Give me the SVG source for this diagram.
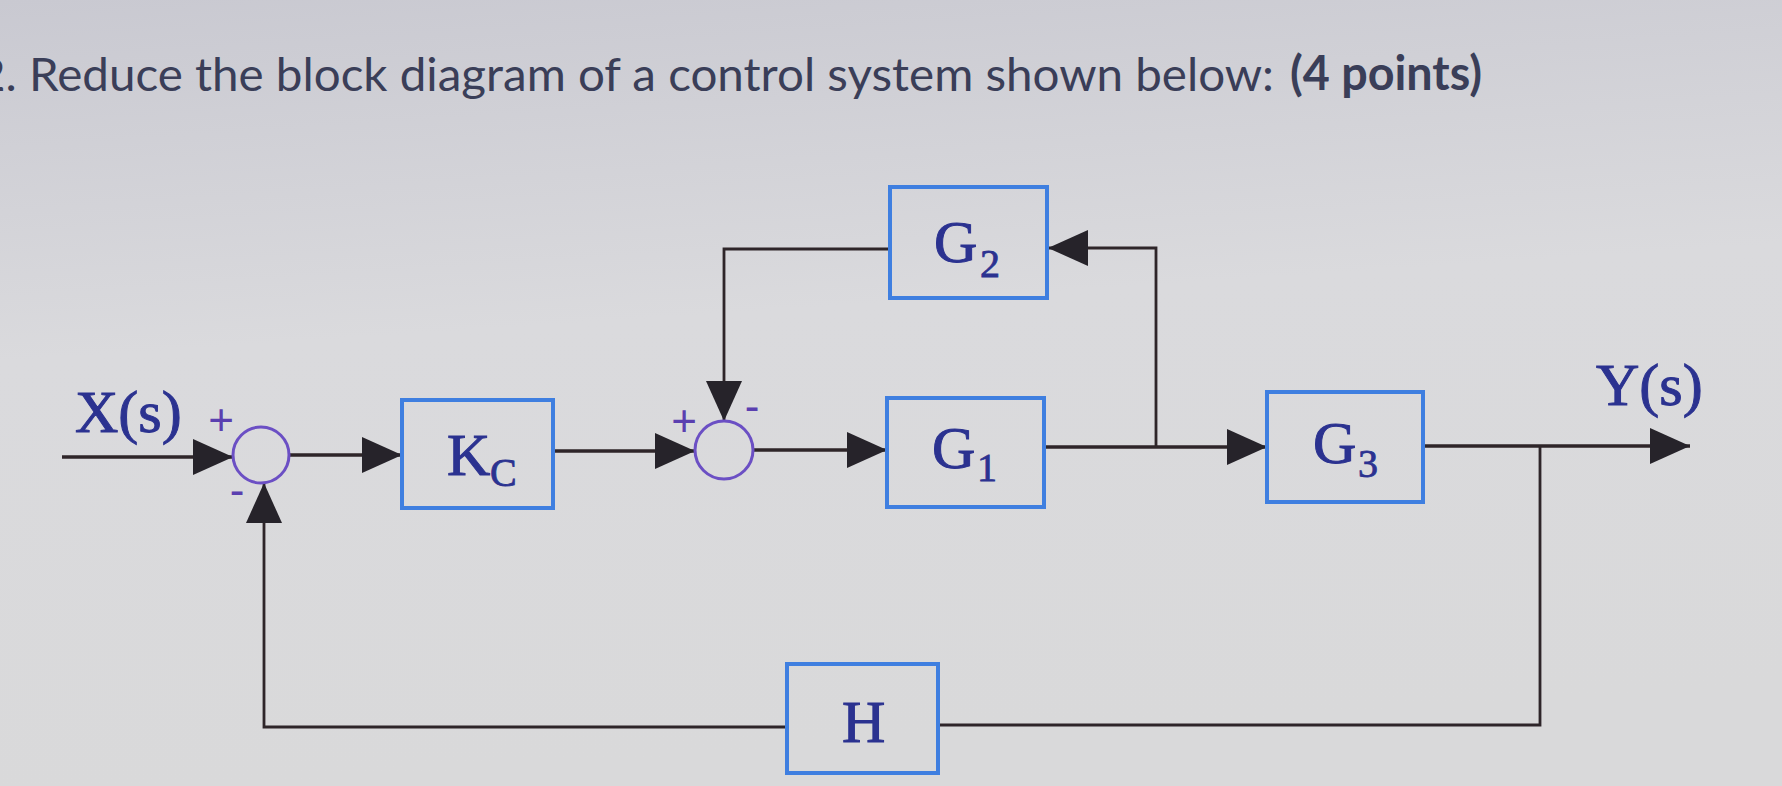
<svg xmlns="http://www.w3.org/2000/svg" width="1782" height="786" viewBox="0 0 1782 786">
  <defs>
    <linearGradient id="bg" x1="0" y1="0" x2="0.15" y2="1">
      <stop offset="0" stop-color="#c9c9d1"/>
      <stop offset="0.45" stop-color="#dadadd"/>
      <stop offset="1" stop-color="#d9d9da"/>
    </linearGradient>
    <marker id="arr" markerUnits="userSpaceOnUse" markerWidth="40" markerHeight="36" refX="40" refY="18" orient="auto">
      <path d="M0,0 L40,18 L0,36 Z" fill="#26232a"/>
    </marker>
    <style>
      .box { fill: none; stroke: #3f7fe0; stroke-width: 4; }
      .lbl { font-family: "Liberation Serif", "Times New Roman", serif; font-size: 60px; fill: #2b3290; stroke: #2b3290; stroke-width: 1; }
      .sub { font-family: "Liberation Serif", "Times New Roman", serif; font-size: 40px; fill: #2b3290; stroke: #2b3290; stroke-width: 0.8; }
      .sign { font-family: "Liberation Sans", Arial, sans-serif; font-size: 44px; fill: #5a3fb0; }
      .sum { fill: none; stroke: #6b4fc4; stroke-width: 3; }
      .wire { fill: none; stroke: #2e2529; stroke-width: 3.5; }
      .fb { fill: none; stroke: #2e2529; stroke-width: 2.8; }
      .title { font-family: Lato, "Open Sans", sans-serif; font-size: 47px; fill: #3a3e58; }
    </style>
  </defs>
  <rect x="0" y="0" width="1782" height="786" fill="url(#bg)"/>

  <g id="title">
    <text class="title" x="-22" y="91" textLength="1296" lengthAdjust="spacingAndGlyphs">2. Reduce the block diagram of a control system shown below:</text>
    <text class="title" x="1290" y="90" font-weight="bold" textLength="192" lengthAdjust="spacingAndGlyphs">(4 points)</text>
  </g>

  <g id="connectors">
    <line class="wire" x1="62" y1="457" x2="233" y2="457" marker-end="url(#arr)"/>
    <line class="wire" x1="289" y1="455" x2="402" y2="455" marker-end="url(#arr)"/>
    <line class="wire" x1="553" y1="451" x2="695" y2="451" marker-end="url(#arr)"/>
    <line class="wire" x1="753" y1="450" x2="887" y2="450" marker-end="url(#arr)"/>
    <line class="wire" x1="1044" y1="447" x2="1267" y2="447" marker-end="url(#arr)"/>
    <line class="wire" x1="1423" y1="446" x2="1690" y2="446" marker-end="url(#arr)"/>
    <polyline class="fb" points="1156,447 1156,248 1048,248" marker-end="url(#arr)"/>
    <polyline class="fb" points="890,249 724,249 724,421" marker-end="url(#arr)"/>
    <polyline class="fb" points="1540,446 1540,725 938,725"/>
    <polyline class="fb" points="787,727 264,727 264,483" marker-end="url(#arr)"/>
  </g>

  <g id="input-label">
    <text class="lbl" x="75" y="432">X(s)</text>
  </g>
  <g id="output-label">
    <text class="lbl" x="1596" y="405">Y(s)</text>
  </g>

  <g id="sum1">
    <circle class="sum" cx="261" cy="455" r="28"/>
    <text class="sign" x="221" y="435" text-anchor="middle">+</text>
    <text class="sign" x="237" y="505" text-anchor="middle">-</text>
  </g>

  <g id="Kc">
    <rect class="box" x="402" y="400" width="151" height="108"/>
    <text class="lbl" x="447" y="475">K</text>
    <text class="sub" x="490" y="486">C</text>
  </g>

  <g id="sum2">
    <circle class="sum" cx="724" cy="450" r="29"/>
    <text class="sign" x="684" y="436" text-anchor="middle">+</text>
    <text class="sign" x="752" y="421" text-anchor="middle">-</text>
  </g>

  <g id="G1">
    <rect class="box" x="887" y="398" width="157" height="109"/>
    <text class="lbl" x="932" y="468">G</text>
    <text class="sub" x="977" y="481">1</text>
  </g>

  <g id="G2">
    <rect class="box" x="890" y="187" width="157" height="111"/>
    <text class="lbl" x="934" y="262">G</text>
    <text class="sub" x="980" y="277">2</text>
  </g>

  <g id="G3">
    <rect class="box" x="1267" y="392" width="156" height="110"/>
    <text class="lbl" x="1313" y="463">G</text>
    <text class="sub" x="1358" y="477">3</text>
  </g>

  <g id="H">
    <rect class="box" x="787" y="664" width="151" height="109"/>
    <text class="lbl" x="842" y="742">H</text>
  </g>
</svg>
